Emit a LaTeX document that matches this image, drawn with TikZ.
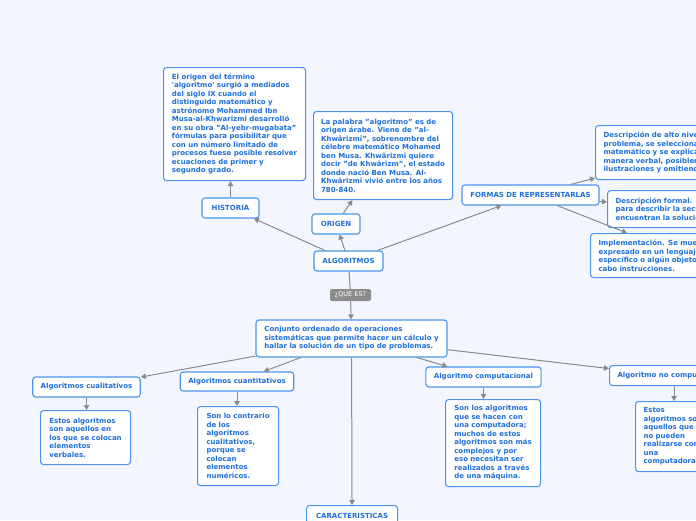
\documentclass[tikz,border=0pt]{standalone}
\usepackage{fontspec}
\setmainfont{DejaVu Sans}
\usetikzlibrary{arrows.meta}
\definecolor{mapback}{HTML}{F3F6FE}
\definecolor{boxline}{HTML}{4A94EC}
\definecolor{boxtext}{HTML}{1E6FD8}
\definecolor{linkgray}{HTML}{8A8A8A}
\definecolor{taggray}{HTML}{8C8C8C}

\begin{document}
\begin{tikzpicture}[x=1pt, y=-1pt,
    topic/.style={draw=boxline, line width=1.1pt, rounded corners=3pt, fill=white, text=boxtext,
        font=\fontsize{7}{8.5}\selectfont\bfseries, minimum height=20pt, inner xsep=8pt, inner ysep=2pt},
    note/.style={topic, anchor=north west, align=left, inner sep=4pt},
    link/.style={draw=linkgray, line width=1pt, -{Triangle[length=5pt,width=5.5pt]}},
    tag/.style={fill=taggray, text=white, rounded corners=1.5pt, font=\fontsize{6.5}{7}\selectfont,
        minimum height=12pt, minimum width=41pt, inner sep=1.5pt}]
        \useasboundingbox (0,0) rectangle (696,520);
        \fill[mapback] (0,0) rectangle (696,520);
        \clip (0,0) rectangle (696,520);

        % centre
        \node[topic, minimum width=69pt] (algoritmos) at (348.5,261) {ALGORITMOS};
        \node[topic, minimum width=57pt] (historia) at (230.5,208) {HISTORIA};
        \node[topic, minimum width=48pt] (origen) at (336,224) {ORIGEN};
        \node[topic, minimum width=137pt] (formas) at (530.5,195) {FORMAS DE REPRESENTARLAS};

        % upper notes
        \node[note, minimum width=142pt, minimum height=113pt] (histtxt) at (163,67)
            {El origen del término\\\textquotesingle algoritmo\textquotesingle{} surgió a mediados\\del siglo IX cuando el\\distinguido matemático y\\astrónomo Mohammed Ibn\\Musa-al-Khwarizmi desarrolló\\en su obra "Al-yebr-mugabata"\\fórmulas para posibilitar que\\con un número limitado de\\procesos fuese posible resolver\\ecuaciones de primer y\\segundo grado.};
        \node[note, minimum width=139pt, minimum height=88pt] (origtxt) at (313,111)
            {La palabra "algoritmo" es de\\origen árabe. Viene de "al-\\Khwārizmī", sobrenombre del\\célebre matemático Mohamed\\ben Musa. Khwārizmī quiere\\decir "de Khwārizm", el estado\\donde nació Ben Musa. Al-\\Khwārizmī vivió entre los años\\780-840.};
        \node[note, text width=190pt, inner xsep=8pt, minimum height=54pt] (alto) at (595,125)
            {Descripción de alto nivel. Se establece el\\problema, se selecciona un modelo\\matemático y se explica el algoritmo de\\manera verbal, posiblemente con\\ilustraciones y omitiendo detalles.};
        \node[note, text width=190pt, inner xsep=8pt, minimum height=37pt] (formal) at (607,190)
            {Descripción formal. Se usa pseudocódigo\\para describir la secuencia de pasos que\\encuentran la solución.};
        \node[note, text width=190pt, inner xsep=8pt, minimum height=44pt] (impl) at (590,233)
            {Implementación. Se muestra el algoritmo\\expresado en un lenguaje de programación\\específico o algún objeto capaz de llevar a\\cabo instrucciones.};

        % lower part
        \node[tag] (quees) at (350.5,295) {¿QUE ES?};
        \node[topic, align=left, minimum width=191pt, minimum height=37pt, inner xsep=4pt] (conj) at (351.5,338.5)
            {Conjunto ordenado de operaciones\\sistemáticas que permite hacer un cálculo y\\hallar la solución de un tipo de problemas.};
        \node[topic, minimum width=107pt] (cual) at (86.5,387) {Algoritmos cualitativos};
        \node[topic, minimum width=112pt, minimum height=19pt] (cuant) at (237,381.5) {Algoritmos cuantitativos};
        \node[topic, minimum width=115pt] (comp) at (483.5,377) {Algoritmo computacional};
        \node[topic, anchor=north west] (nocomp) at (609,365) {Algoritmo no computacional};
        \node[topic, anchor=north west, minimum width=91pt] (carac) at (306,505) {CARACTERISTICAS};

        \node[note, minimum width=90pt, minimum height=54pt] (cualtxt) at (40,410)
            {Estos algoritmos\\son aquellos en\\los que se colocan\\elementos\\verbales.};
        \node[note, minimum width=81pt, minimum height=79pt] (cuanttxt) at (197,406)
            {Son lo contrario\\de los\\algoritmos\\cualitativos,\\porque se\\colocan\\elementos\\numéricos.};
        \node[note, minimum width=95pt, minimum height=87pt] (comptxt) at (445,399)
            {Son los algoritmos\\que se hacen con\\una computadora;\\muchos de estos\\algoritmos son más\\complejos y por\\eso necesitan ser\\realizados a través\\de una máquina.};
        \node[note, text width=80pt, inner xsep=8pt, minimum height=70pt] (nocomptxt) at (635,401)
            {Estos\\algoritmos son\\aquellos que\\no pueden\\realizarse con\\una\\computadora.};

        \coordinate (ncdown) at ([xshift=65pt]nocomp.south west);
        \coordinate (caracout) at (420,527);

        % connectors
        \draw[link] (algoritmos) -- (historia);
        \draw[link] (algoritmos) -- (origen);
        \draw[link] (algoritmos) -- (formas);
        \draw[link] (historia) -- (historia |- histtxt.south);
        \draw[link] (origen) -- (origtxt);
        \draw[link] (formas) -- ([yshift=2pt]alto.south west);
        \draw[link] (formas) -- ([yshift=7pt]formal.west);
        \draw[link] (formas) -- ([xshift=37pt]impl.north west);
        \draw[link] (algoritmos) -- (quees) -- (conj);
        \draw[link] (conj) -- (cual);
        \draw[link] (conj) -- (cuant);
        \draw[link] (conj) -- (carac);
        \draw[link] (conj) -- (comp);
        \draw[link] (conj) -- ([yshift=7pt]nocomp.west);
        \draw[link] (cual) -- (cual |- cualtxt.north);
        \draw[link] (cuant) -- (cuant |- cuanttxt.north);
        \draw[link] (comp) -- (comp |- comptxt.north);
        \draw[link] (ncdown) -- (ncdown |- nocomptxt.north);
        \draw[link] (carac) -- (caracout);
    \end{tikzpicture}
\end{document}
